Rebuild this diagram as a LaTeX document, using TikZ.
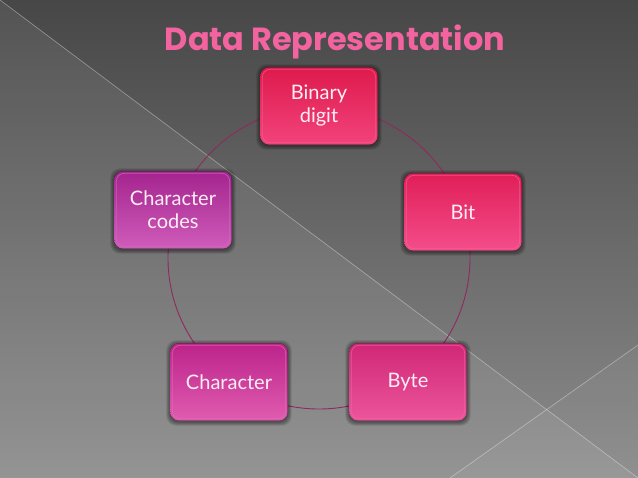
\documentclass[tikz,border=0pt]{standalone}
\usepackage{fontspec}
\setmainfont{Lato}
\newfontfamily\titlefont{Poppins}[UprightFont=* Bold]
\definecolor{bgtop}{HTML}{474747}
\definecolor{bgbot}{HTML}{8C8C8C}
\definecolor{ringc}{HTML}{8E2A5E}
\definecolor{titlec}{HTML}{F2639F}
\definecolor{txtc}{HTML}{FCEEF4}
\definecolor{binA}{HTML}{DE1A4C}\definecolor{binB}{HTML}{F2437C}\definecolor{binC}{HTML}{F0628F}
\definecolor{bitA}{HTML}{E01E58}\definecolor{bitB}{HTML}{F44D8A}\definecolor{bitC}{HTML}{F26898}
\definecolor{bytA}{HTML}{D02776}\definecolor{bytB}{HTML}{EC559C}\definecolor{bytC}{HTML}{EA6AA6}
\definecolor{chrA}{HTML}{BC238A}\definecolor{chrB}{HTML}{E05CB0}\definecolor{chrC}{HTML}{DE70B8}
\definecolor{ccA}{HTML}{A4248E}\definecolor{ccB}{HTML}{CF5CBA}\definecolor{ccC}{HTML}{D070C0}
\tikzset{
  x=1pt, y=-1pt,
  box/.style={rounded corners=9pt, minimum width=117pt, minimum height=77pt,
    align=center, text=txtc, font=\fontsize{20}{23}\selectfont, inner sep=2pt},
  ring/.style={draw=ringc, line width=0.9pt},
  deco/.style={draw=white, draw opacity=0.35, line width=0.7pt},
}
\newcommand{\pbox}[5]{%
  \foreach \s in {4,3,2,1} {
    \fill[black, opacity=0.12, rounded corners=10pt]
      ([xshift=-\s pt,yshift=-\s pt-1pt]#1.south west) rectangle ([xshift=\s pt,yshift=\s pt-1pt]#1.north east);
  }
  \fill[top color=#2, bottom color=#3, rounded corners=9pt]
    (#1.south west) rectangle (#1.north east);
  \draw[#4, draw opacity=0.7, line width=0.7pt, rounded corners=8pt]
    ([xshift=2pt,yshift=2pt]#1.south west) rectangle ([xshift=-2pt,yshift=-2pt]#1.north east);
  \node[box] (#1t) at (#1) {#5};
}
\begin{document}
\begin{tikzpicture}
\useasboundingbox (0,0) rectangle (638,478);
\fill[top color=bgtop, bottom color=bgbot] (0,0) rectangle (638,478);
\fill[white, opacity=0.07] (0,0) -- (638,478) -- (0,478) -- cycle;
\fill[white, opacity=0.04] (638,345) -- (450,478) -- (638,478) -- cycle;
\draw[deco] (0,0) -- (638,478);
\draw[deco] (638,345) -- (450,478);
\node[titlec, font=\titlefont\fontsize{32}{35}\selectfont] (title) at (335,42) {Data Representation};
\coordinate (ctr) at (319,258);
\draw[ring] (ctr) circle[radius=151pt];
\node[box] (bin) at (319,106) {};
\node[box] (bit) at (463,212) {};
\node[box] (byte) at (408,382) {};
\node[box] (chr) at (229,382) {};
\node[box] (cc) at (173,210) {};
\pbox{bin}{binA}{binB}{binC}{Binary\\digit}
\pbox{bit}{bitA}{bitB}{bitC}{Bit}
\pbox{byte}{bytA}{bytB}{bytC}{Byte}
\pbox{chr}{chrA}{chrB}{chrC}{Character}
\pbox{cc}{ccA}{ccB}{ccC}{Character\\codes}
\end{tikzpicture}
\end{document}
